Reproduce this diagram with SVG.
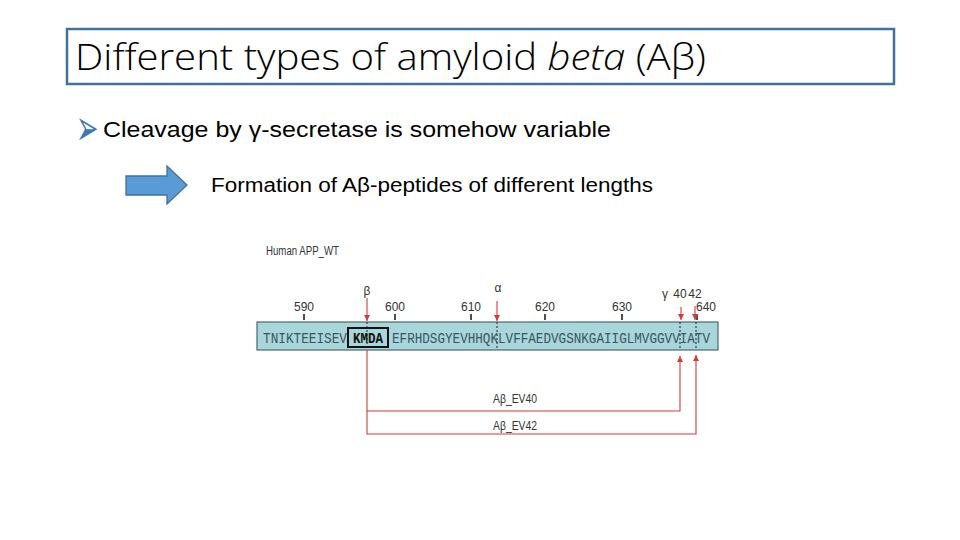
<svg xmlns="http://www.w3.org/2000/svg" width="960" height="540" viewBox="0 0 960 540">
<defs>
<style>
.title{font-family:"Open Sans","Liberation Sans",Arial,sans-serif;font-weight:300;font-size:37px;fill:#000}
.body{font-family:"Liberation Sans",Arial,sans-serif;fill:#000}
.lab{font-family:"Liberation Sans",Arial,sans-serif;font-size:12px;fill:#333}
.seq{font-family:"Liberation Mono","Courier New",monospace;font-size:14px;fill:#3a5560}
.red{stroke:#d23c3c;stroke-width:1.1;fill:none}
.dot{stroke:#222;stroke-width:1;stroke-dasharray:2,2;fill:none}
.tick{stroke:#222;stroke-width:1.6}
</style>
<marker id="ah" viewBox="0 0 8 8" refX="8" refY="4" markerWidth="6" markerHeight="6" orient="auto" markerUnits="userSpaceOnUse">
<path d="M0,0 L8,4 L0,8 z" fill="#d23c3c"/>
</marker>
</defs>
<rect width="960" height="540" fill="#fff"/>
<g id="title">
<rect x="67" y="29" width="827" height="55" fill="#fff" stroke="#41719c" stroke-width="2.5"/>
<text class="title" x="75" y="70" textLength="631" lengthAdjust="spacingAndGlyphs">Different types of amyloid <tspan font-style="italic">beta</tspan> (Aβ)</text>
</g>
<g id="bullet">
<text transform="translate(76,145) scale(0.84,1.57)" font-family="DejaVu Sans,sans-serif" font-size="32" fill="#3f78b8">➢</text>
<text class="body" x="103" y="137" font-size="22.5" textLength="508" lengthAdjust="spacingAndGlyphs">Cleavage by γ-secretase is somehow variable</text>
</g>
<g id="blue-arrow">
<path d="M126,176 L167,176 L167,166 L187,185 L167,204 L167,195 L126,195 Z" fill="#5b9bd5" stroke="#41719c" stroke-width="1.3"/>
</g>
<g id="formation">
<text class="body" x="211" y="192" font-size="19.5" textLength="442" lengthAdjust="spacingAndGlyphs">Formation of Aβ-peptides of different lengths</text>
</g>
<g id="figure">
<text class="lab" x="266" y="255" font-size="13" textLength="73" lengthAdjust="spacingAndGlyphs">Human APP_WT</text>
<g id="scale">
<text class="lab" x="304" y="311" text-anchor="middle">590</text>
<text class="lab" x="395" y="311" text-anchor="middle">600</text>
<text class="lab" x="471" y="311" text-anchor="middle">610</text>
<text class="lab" x="545" y="311" text-anchor="middle">620</text>
<text class="lab" x="622" y="311" text-anchor="middle">630</text>
<text class="lab" x="706" y="311" text-anchor="middle">640</text>
<line class="tick" x1="304" y1="314" x2="304" y2="320"/>
<line class="tick" x1="395" y1="314" x2="395" y2="320"/>
<line class="tick" x1="471" y1="314" x2="471" y2="320"/>
<line class="tick" x1="545" y1="314" x2="545" y2="320"/>
<line class="tick" x1="622" y1="314" x2="622" y2="320"/>
<line class="tick" x1="697" y1="314" x2="697" y2="320"/>
</g>
<g id="site-labels">
<text class="lab" x="367" y="295" text-anchor="middle" font-size="14">β</text>
<text class="lab" x="498" y="292" text-anchor="middle" font-size="14">α</text>
<text class="lab" x="665" y="298" text-anchor="middle" font-size="13">γ</text>
<text class="lab" x="680" y="298" text-anchor="middle" font-size="12">40</text>
<text class="lab" x="695" y="298" text-anchor="middle" font-size="12">42</text>
</g>
<g id="sequence-bar">
<rect x="257" y="322" width="461" height="28" fill="#a8d6da" stroke="#4a6a70" stroke-width="1.2"/>
<rect x="348" y="328" width="40" height="19" fill="none" stroke="#111" stroke-width="2"/>
<text class="seq" x="263" y="343" textLength="84" lengthAdjust="spacingAndGlyphs">TNIKTEEISEV</text>
<text class="seq" x="353" y="343" font-weight="bold" textLength="30" lengthAdjust="spacingAndGlyphs" style="fill:#111">KMDA</text>
<text class="seq" x="392" y="343" textLength="318" lengthAdjust="spacingAndGlyphs">EFRHDSGYEVHHQKLVFFAEDVGSNKGAIIGLMVGGVVIATV</text>
<line class="dot" x1="367" y1="322" x2="367" y2="350"/>
<line class="dot" x1="497" y1="322" x2="497" y2="350"/>
<line class="dot" x1="680" y1="322" x2="680" y2="350"/>
<line class="dot" x1="696" y1="322" x2="696" y2="350"/>
</g>
<g id="connectors">
<line class="red" x1="367" y1="298" x2="367" y2="321" marker-end="url(#ah)"/>
<line class="red" x1="497" y1="301" x2="497" y2="321" marker-end="url(#ah)"/>
<line class="red" x1="681" y1="307" x2="681" y2="320" marker-end="url(#ah)"/>
<line class="red" x1="695" y1="306" x2="695" y2="320" marker-end="url(#ah)"/>
<polyline class="red" points="367,350 367,411 680,411 680,356" marker-end="url(#ah)"/>
<polyline class="red" points="367,411 367,434 696,434 696,355" marker-end="url(#ah)"/>
</g>
<text class="lab" x="515" y="403" font-size="13" text-anchor="middle" textLength="44" lengthAdjust="spacingAndGlyphs">Aβ_EV40</text>
<text class="lab" x="515" y="430" font-size="13" text-anchor="middle" textLength="44" lengthAdjust="spacingAndGlyphs">Aβ_EV42</text>
</g>
</svg>
